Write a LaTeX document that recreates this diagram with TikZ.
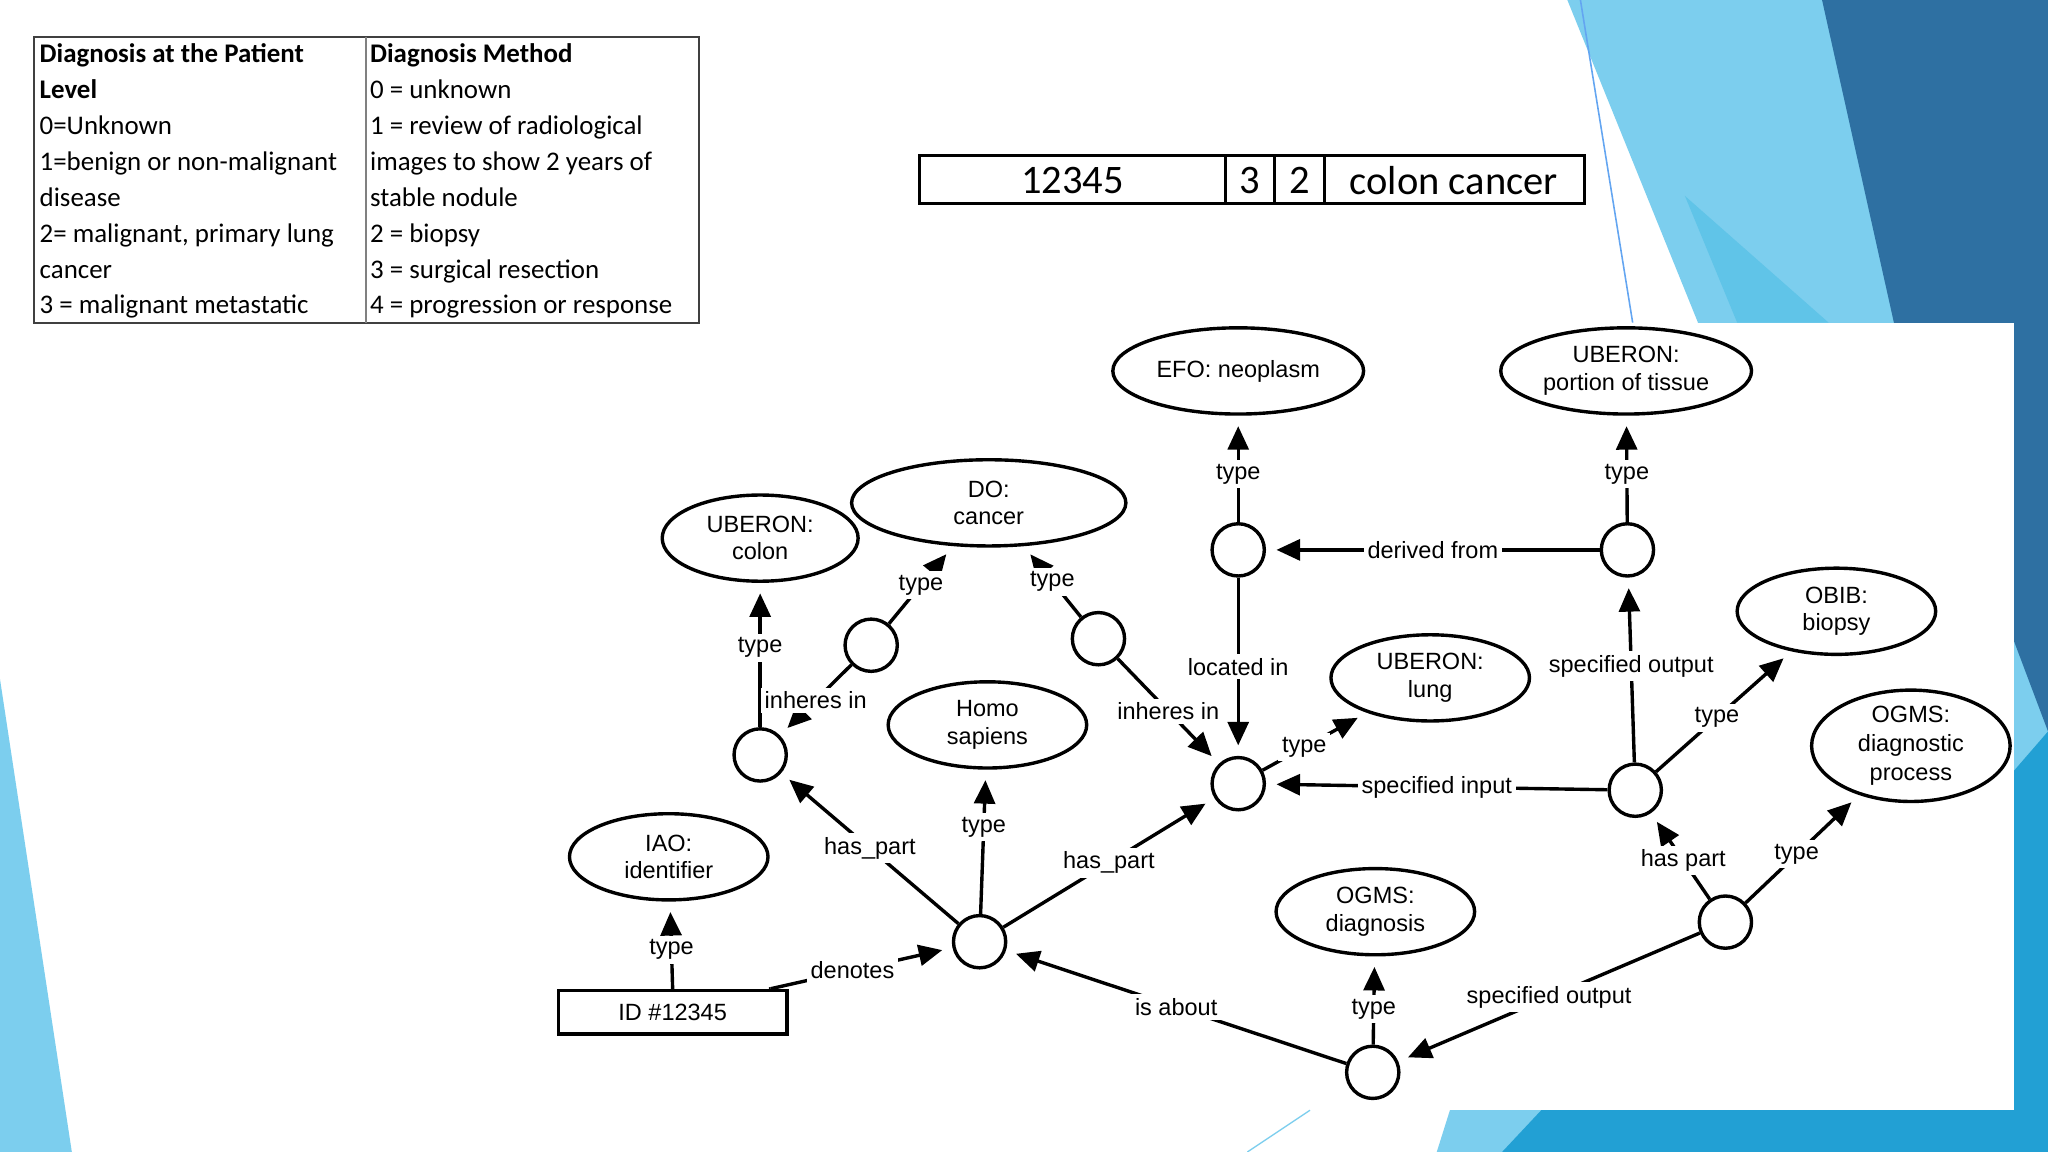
\documentclass[tikz,border=0pt]{standalone}
\usepackage{fontspec}
\setmainfont{Liberation Sans}
\newfontfamily\tabfont{Carlito}
\usetikzlibrary{shapes.geometric,arrows.meta}
\definecolor{lb}{RGB}{124,206,238}
\definecolor{mb}{RGB}{96,196,232}
\definecolor{db}{RGB}{46,112,162}
\definecolor{bb}{RGB}{34,160,212}
\begin{document}
\begin{tikzpicture}[x=0.5pt,y=-0.5pt,
  ell/.style={draw,line width=1.3pt,ellipse,minimum width=#1*0.5pt,minimum height=33pt,inner sep=0pt,align=center,font=\fontsize{9}{10.5}\selectfont},
  ell/.default=152,
  circ/.style={draw,line width=1.3pt,circle,minimum size=20pt,inner sep=0pt},
  edge/.style={line width=1.3pt,-{Triangle[length=9pt,width=8pt]},shorten >=4pt},
  plain/.style={line width=1.3pt},
  lbl/.style={fill=white,inner sep=1.5pt,font=\fontsize{9}{10}\selectfont},
  tab/.style={anchor=north west,inner sep=0pt,align=left,font=\tabfont\fontsize{10.3}{13.75}\selectfont}]
\useasboundingbox (0,0) rectangle (1568,882);
% background
\fill[white] (0,0) rectangle (1568,882);
\fill[lb] (1200,0) -- (1568,0) -- (1568,882) -- (1100,882) -- (1300,247) -- cycle;
\fill[mb] (1290,150) -- (1400,247) -- (1330,247) -- cycle;
\fill[db] (1395,0) -- (1568,0) -- (1568,560) -- (1450,247) -- cycle;
\fill[bb] (1150,882) -- (1568,882) -- (1568,560) -- (1542,590) -- (1542,850) -- (1180,850) -- cycle;
\draw[lb!80!blue,line width=0.6pt] (1210,0) -- (1250,247);
\fill[lb] (0,520) -- (55,882) -- (0,882) -- cycle;
\fill[white] (560,247) rectangle (1542,850);
\draw[lb,line width=0.5pt] (955,882) -- (1003,850);
% table
\draw[line width=0.8pt,black!75] (26,28) rectangle (535,247);
\draw[line width=0.8pt,black!50] (280,28) -- (280,247);
\node[tab] (tl) at (30,33)
 {\textbf{Diagnosis at the Patient}\\\textbf{Level}\\0=Unknown\\1=benign or non-malignant\\disease\\2= malignant, primary lung\\cancer\\3 = malignant metastatic};
\node[tab] (tr) at (283,33)
 {\textbf{Diagnosis Method}\\0 = unknown\\1 = review of radiological\\images to show 2 years of\\stable nodule\\2 = biopsy\\3 = surgical resection\\4 = progression or response};
% header record
\draw[line width=1.2pt] (704,119) rectangle (1213,156);
\draw[line width=1.2pt] (938,119) -- (938,156) (976,119) -- (976,156) (1014,119) -- (1014,156);
\begin{scope}[font=\tabfont\fontsize{15.5}{15.5}\selectfont]
\node (h1) at (821,138) {12345};
\node (h2) at (957,138) {3};
\node (h3) at (995,138) {2};
\node (h4) at (1113,138) {colon cancer};
\end{scope}
% nodes
\node[ell=192] (efo) at (948,284) {EFO: neoplasm};
\node[ell=192] (tis) at (1245,284) {UBERON:\\portion of tissue};
\node[ell=210] (do) at (757,385) {DO:\\cancer};
\node[ell=150] (colon) at (582,412) {UBERON:\\colon};
\node[ell] (obib) at (1406,468) {OBIB:\\biopsy};
\node[ell] (lung) at (1095,519) {UBERON:\\lung};
\node[ell] (homo) at (756,555) {Homo\\sapiens};
\node[ell,font=\fontsize{9}{11}\selectfont] (dp) at (1463,571) {OGMS:\\diagnostic\\process};
\node[ell] (iao) at (512,656) {IAO:\\identifier};
\node[ell] (dg) at (1053,698) {OGMS:\\diagnosis};
\node[draw,line width=1.3pt,minimum width=87.5pt,minimum height=16.5pt,inner sep=0pt,font=\fontsize{9}{10}\selectfont] (id) at (515,775) {ID \#12345};
\node[circ] (c1) at (948,421) {};
\node[circ] (c2) at (1246,421) {};
\node[circ] (c3) at (667,494) {};
\node[circ] (c4) at (841,489) {};
\node[circ] (c5) at (582,578) {};
\node[circ] (c6) at (948,600) {};
\node[circ] (c7) at (1252,605) {};
\node[circ] (c8) at (750,721) {};
\node[circ] (c9) at (1321,706) {};
\node[circ] (c10) at (1051,821) {};
\coordinate (idtop) at (590,757);
% edges
\draw[edge] (c1) -- node[lbl,pos=0.45]{type} (efo);
\draw[edge] (c2) -- node[lbl,pos=0.45]{type} (tis);
\draw[edge] (c2) -- node[lbl]{derived from} (c1);
\draw[edge] (c1) -- node[lbl,pos=0.5]{located in} (c6);
\draw[edge] (c7) -- node[lbl,pos=0.52]{specified output} (c2);
\draw[edge] (c7) -- node[lbl,pos=0.45]{type} (obib);
\draw[edge] (c7) -- node[lbl]{specified input} (c6);
\draw[edge] (c6) -- node[lbl,pos=0.4]{type} (lung);
\draw[edge] (c9) -- node[lbl,pos=0.45]{has part} (c7);
\draw[edge] (c9) -- node[lbl,pos=0.45]{type} (dp);
\draw[edge] (c9) -- node[lbl,pos=0.5]{specified output} (c10);
\draw[edge] (c10) -- node[lbl,pos=0.4]{type} (dg);
\draw[edge] (c10) -- node[lbl,pos=0.5]{is about} (c8);
\draw[plain] (id.north east) ++(-15,0) -- (idtop);
\draw[edge] (idtop) -- node[lbl,pos=0.45]{denotes} (c8);
\draw[edge] (id.north) -- node[lbl,pos=0.45]{type} (iao);
\draw[edge] (c8) -- node[lbl,pos=0.6]{type} (homo);
\draw[edge] (c8) -- node[lbl,pos=0.5]{has\_part} (c6);
\draw[edge] (c8) -- node[lbl,pos=0.5]{has\_part} (c5);
\draw[edge] (c5) -- node[lbl,pos=0.55]{type} (colon);
\draw[edge] (c3) -- node[lbl,pos=0.5]{inheres in} (c5);
\draw[edge] (c3) -- node[lbl,pos=0.5]{type} (do);
\draw[edge] (c4) -- node[lbl,pos=0.5]{type} (do);
\draw[edge] (c4) -- node[lbl,pos=0.5]{inheres in} (c6);
\end{tikzpicture}
\end{document}
